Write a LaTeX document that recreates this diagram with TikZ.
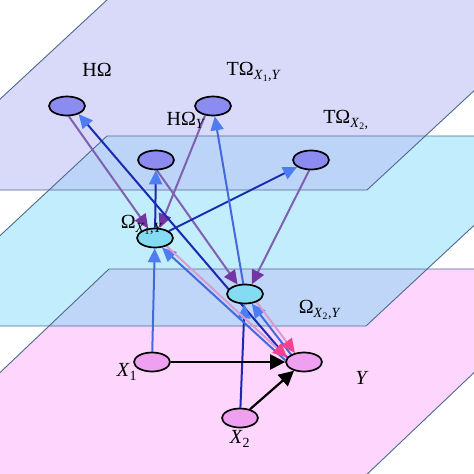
\documentclass[tikz,border=0pt]{standalone}
\usepackage{fontspec}
\setmainfont{Liberation Serif}
\usetikzlibrary{shapes.geometric, arrows.meta, positioning, backgrounds}

\definecolor{topplane}{HTML}{D9D9FA}
\definecolor{midplane}{HTML}{C2EDFD}
\definecolor{lowplane}{HTML}{FDD5FD}
\definecolor{topmid}{HTML}{BCD4F8}
\definecolor{midlow}{HTML}{C0D6F8}
\definecolor{planeedge}{HTML}{4E6A8E}
\definecolor{topnode}{HTML}{8C8CF0}
\definecolor{midnode}{HTML}{84DCF2}
\definecolor{lownode}{HTML}{F0A0F0}
\definecolor{purpleline}{HTML}{8060B0}
\definecolor{purplehead}{HTML}{7434A4}
\definecolor{bluedark}{HTML}{1A2AB0}
\definecolor{bluemid}{HTML}{4668DE}
\definecolor{bluehead}{HTML}{4E7CF2}
\definecolor{pinkline}{HTML}{D49CD0}
\definecolor{pinkhead}{HTML}{F2438E}

\newcommand{\sx}[1]{\textsubscript{#1}}

\begin{document}
\begin{tikzpicture}[
    x=1pt, y=-1pt,
    lbl/.style={font=\fontsize{20}{23}\selectfont, inner sep=0pt},
    var/.style={ellipse, draw=black, line width=1.7pt, minimum width=36pt, minimum height=19pt, inner sep=0pt},
    topvar/.style={var, fill=topnode},
    midvar/.style={var, fill=midnode},
    lowvar/.style={var, fill=lownode},
    plane/.style={draw=planeedge, line width=0.9pt},
    down/.style={draw=purpleline, line width=2pt, -{Triangle[length=14pt, width=13pt, color=purplehead]}},
    updark/.style={draw=bluedark, line width=2pt, -{Triangle[length=14pt, width=13pt, color=bluehead]}},
    upmid/.style={draw=bluemid, line width=2pt, -{Triangle[length=14pt, width=13pt, color=bluehead]}},
    back/.style={draw=pinkline, line width=2pt, -{Triangle[length=14pt, width=13pt, color=pinkhead]}},
    cause/.style={draw=black, line width=2.2pt, -{Triangle[length=15pt, width=15pt]}}
]
    \useasboundingbox (0,0) rectangle (474,474);

    % top layer
    \node[topvar] (HO) at (67,106) {};
    \node[topvar] (TOXY) at (213,106) {};
    \node[topvar] (HOY) at (156,160) {};
    \node[topvar] (TOX) at (311,160) {};
    % middle layer
    \node[midvar] (OXY) at (155,238) {};
    \node[midvar] (OXtwoY) at (245,294) {};
    % bottom layer
    \node[lowvar] (X1) at (152,362) {};
    \node[lowvar] (Y) at (304,362) {};
    \node[lowvar] (X2) at (240,418) {};

    % labels
    \node[lbl] (lHO) at (97,70) {HΩ};
    \node[lbl] (lTOXY) at (254,72) {TΩ\sx{\textit{X}\sx{1},\textit{Y}}};
    \node[lbl] (lHOY) at (186,120) {HΩ\sx{\textit{Y}}};
    \node[lbl] (lTOX) at (346,120) {TΩ\sx{\textit{X}\sx{2},}};
    \node[lbl] (lOXY) at (142,225) {Ω\sx{\textit{X}\sx{1},\textit{Y}}};
    \node[lbl] (lOXtwoY) at (320,310) {Ω\sx{\textit{X}\sx{2},\textit{Y}}};
    \node[lbl] (lX1) at (127,372) {\textit{X}\sx{1}};
    \node[lbl] (lY) at (362,378) {\textit{Y}};
    \node[lbl] (lX2) at (240,439) {\textit{X}\sx{2}};

    \begin{scope}[on background layer]
    \clip (0,0) rectangle (474,474);

    % the three planes
    \fill[lowplane] (109,269) -- (583,269) -- (361,480) -- (-113,480) -- cycle;
    \fill[midplane] (107,136) -- (570,136) -- (366,326) -- (-97,326) -- cycle;
    \fill[topplane] (108,-1) -- (573,-1) -- (367,190) -- (-98,190) -- cycle;
    \begin{scope}
        \clip (108,-1) -- (573,-1) -- (367,190) -- (-98,190) -- cycle;
        \fill[topmid] (107,136) -- (570,136) -- (366,326) -- (-97,326) -- cycle;
    \end{scope}
    \begin{scope}
        \clip (107,136) -- (570,136) -- (366,326) -- (-97,326) -- cycle;
        \fill[midlow] (109,269) -- (583,269) -- (361,480) -- (-113,480) -- cycle;
    \end{scope}
    \draw[plane] (109,269) -- (583,269) -- (361,480) -- (-113,480) -- cycle;
    \draw[plane] (107,136) -- (570,136) -- (366,326) -- (-97,326) -- cycle;
    \draw[plane] (108,-1) -- (573,-1) -- (367,190) -- (-98,190) -- cycle;

    % links between the layers
    \path
        (HO.-80) edge[down] (OXY.125)
        (TOXY.-130) edge[down] (OXY.65)
        (HOY.-85) edge[down] (OXtwoY.128)
        (TOX.-100) edge[down] (OXtwoY.55);
    \path
        (OXY) edge[updark] (HOY)
        (OXY) edge[updark] (TOX)
        (Y.165) edge[updark] (HO.-35)
        (X2) edge[updark] (OXtwoY)
        (OXtwoY) edge[upmid] (TOXY)
        (X1) edge[upmid] (OXY)
        (Y.175) edge[upmid] (OXY.-54)
        (Y.150) edge[upmid] (OXtwoY.-55);
    \path
        (OXY.-35) edge[back] (Y.165)
        (OXtwoY.-35) edge[back] (Y.135);
    \path
        (X1) edge[cause] (Y)
        (X2) edge[cause] (Y);
    \end{scope}
\end{tikzpicture}
\end{document}
